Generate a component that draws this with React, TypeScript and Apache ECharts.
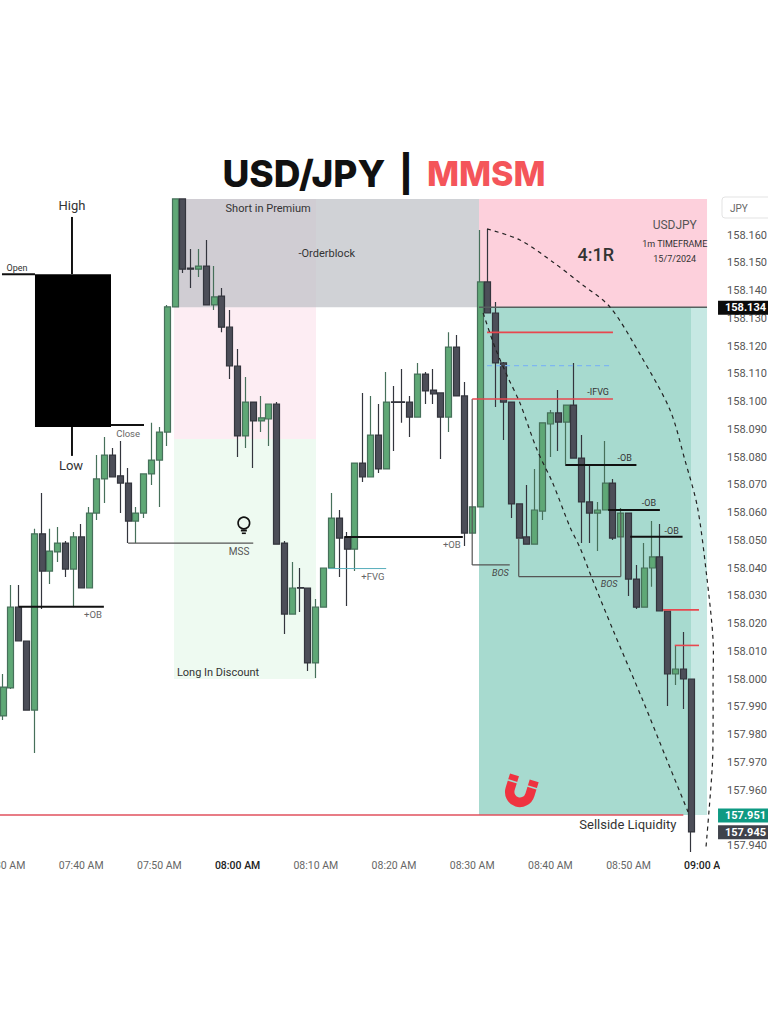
import React, { useEffect, useRef } from "react";
import * as echarts from "echarts";

const minutes: string[] = [];
for (let i = 0; i < 92; i++) {
  const t = 7 * 60 + 30 + i;
  const h = Math.floor(t / 60);
  const m = t % 60;
  minutes.push(`${String(h).padStart(2, "0")}:${String(m).padStart(2, "0")} AM`);
}

const opens = [157.9867,157.9968,158.0259,158.0137,157.9888,158.0523,158.0389,158.0458,158.0490,158.0396,158.0512,158.0328,158.0598,158.0721,158.0807,158.0732,158.0706,158.0569,158.0598,158.0739,158.0789,158.0890,158.1341,158.1730,158.1481,158.1477,158.1488,158.1348,158.1380,158.1268,158.1128,158.0876,158.0998,158.0930,158.0937,158.0991,158.0490,158.0234,158.0329,158.0328,158.0058,158.0259,158.0400,158.0580,158.0512,158.0468,158.0778,158.0728,158.0879,158.0757,158.0999,158.0999,158.0998,158.0944,158.1099,158.1041,158.1031,158.0944,158.1196,158.1020,158.0526,158.0620,158.1431,158.1319,158.1139,158.0998,158.0631,158.0512,158.0486,158.0605,158.0919,158.0959,158.0926,158.0987,158.0796,158.0638,158.0598,158.0609,158.0706,158.0512,158.0598,158.0360,158.0259,158.0400,158.0440,158.0245,158.0018,158.0036,158.0000];
const closes = [157.9971,158.0259,158.0137,157.9888,158.0523,158.0389,158.0461,158.0490,158.0396,158.0512,158.0328,158.0598,158.0721,158.0807,158.0728,158.0706,158.0569,158.0598,158.0739,158.0789,158.0890,158.1341,158.1730,158.1477,158.1477,158.1488,158.1348,158.1377,158.1268,158.1128,158.0876,158.0998,158.0930,158.0941,158.0991,158.0486,158.0234,158.0328,158.0327,158.0058,158.0259,158.0400,158.0580,158.0508,158.0468,158.0778,158.0728,158.0879,158.0757,158.0998,158.0997,158.0997,158.0944,158.1099,158.1038,158.1027,158.0944,158.1196,158.1020,158.0526,158.0620,158.1431,158.1319,158.1139,158.0998,158.0631,158.0508,158.0486,158.0609,158.0923,158.0959,158.0926,158.0987,158.0796,158.0638,158.0598,158.0609,158.0706,158.0508,158.0598,158.0360,158.0259,158.0400,158.0440,158.0245,158.0018,158.0036,158.0000,157.9449];
const lows = [157.9852,157.9964,158.0137,157.9888,157.9733,158.0252,158.0342,158.0422,158.0368,158.0259,158.0328,158.0328,158.0573,158.0634,158.0728,158.0598,158.0490,158.0490,158.0580,158.0699,158.0620,158.0840,158.1341,158.1463,158.1409,158.1449,158.1348,158.1330,158.1250,158.1081,158.0800,158.0832,158.0760,158.0890,158.0840,158.0486,158.0162,158.0234,158.0241,158.0029,158.0004,158.0259,158.0400,158.0368,158.0263,158.0389,158.0710,158.0728,158.0742,158.0757,158.0822,158.0923,158.0872,158.0944,158.0991,158.0991,158.0793,158.0890,158.1020,158.0479,158.0526,158.0620,158.1319,158.0980,158.0861,158.0580,158.0508,158.0486,158.0486,158.0573,158.0800,158.0822,158.0775,158.0796,158.0490,158.0490,158.0461,158.0609,158.0501,158.0512,158.0299,158.0252,158.0259,158.0332,158.0245,157.9903,157.9978,157.9892,157.9377];
const highs = [158.0018,158.0339,158.0339,158.0137,158.0541,158.0670,158.0541,158.0548,158.0497,158.0530,158.0559,158.0620,158.0807,158.0872,158.0832,158.0858,158.0760,158.0620,158.0739,158.0923,158.0908,158.1348,158.1730,158.1730,158.1550,158.1550,158.1582,158.1488,158.1409,158.1330,158.1189,158.1088,158.0998,158.1020,158.0991,158.0998,158.0497,158.0422,158.0400,158.0328,158.0288,158.0400,158.0670,158.0609,158.0530,158.0778,158.1031,158.1020,158.0991,158.1106,158.1056,158.1117,158.1020,158.1139,158.1106,158.1117,158.1031,158.1250,158.1240,158.1070,158.0620,158.1618,158.1622,158.1359,158.1142,158.0998,158.0631,158.0699,158.0757,158.0923,158.0969,158.1041,158.0987,158.1139,158.0879,158.0771,158.0638,158.0858,158.0721,158.0616,158.0598,158.0411,158.0490,158.0569,158.0559,158.0245,158.0119,158.0169,158.0000];

// Shaded zones: minute from, minute to, price from, price to, colour key
const zones: [number, number, number, number, string][] = [
  [21.87, 40.03, 158.173, 158.0865, "premium"],
  [21.87, 40.03, 158.0865, 158.0, "discount"],
  [21.87, 60.87, 158.173, 158.134, "orderblock"],
  [60.87, 90.03, 158.173, 158.134, "risk"],
  [60.87, 87.98, 158.134, 157.951, "reward"],
  [87.98, 90.03, 158.134, 157.951, "rewardEdge"],
];

// Marked levels: minute from, minute to, price from, price to, style key
const levels: [number, number, number, number, string][] = [
  [8.82, 8.82, 158.1665, 158.1459, "black"],
  [8.82, 8.82, 158.0908, 158.0804, "black"],
  [-0.13, 4.09, 158.1459, 158.1459, "black"],
  [13.81, 18.03, 158.0915, 158.0915, "black"],
  [2, 12.9, 158.026, 158.026, "black"],
  [16, 32, 158.049, 158.049, "grey"],
  [43.7, 58.8, 158.0512, 158.0512, "black"],
  [41.6, 49, 158.0398, 158.0398, "fvg"],
  [60, 60, 158.1009, 158.0411, "grey"],
  [60, 64.8, 158.0411, 158.0411, "grey"],
  [65.95, 65.95, 158.0508, 158.0369, "grey"],
  [65.95, 79, 158.0369, 158.0369, "grey"],
  [79, 79, 158.0369, 158.0598, "grey"],
  [61.9, 78, 158.1249, 158.1249, "red"],
  [61.9, 78, 158.1129, 158.1129, "blue"],
  [60, 78, 158.1009, 158.1009, "red"],
  [71.9, 81, 158.0771, 158.0771, "black"],
  [77.4, 84, 158.0609, 158.0609, "black"],
  [80.2, 86.9, 158.0513, 158.0513, "black"],
  [84.4, 89, 158.0249, 158.0249, "red"],
  [85.9, 89, 158.0121, 158.0121, "red"],
  [60.87, 90.03, 158.134, 158.134, "price"],
  [-1, 87, 157.951, 157.951, "liquidity"],
];

const outerCurve: [number, number][] = [[61.9,158.1622],[66.1,158.1582],[70.3,158.1503],[73.8,158.1427],[77.6,158.1341],[81.5,158.1168],[85.3,158.0969],[87.2,158.0789],[88.8,158.0620],[90.0,158.0368],[90.8,158.0141],[90.8,157.9986],[90.8,157.9816],[90.7,157.9683],[89.9,157.9395]];
const innerCurve: [number, number][] = [[61.4,158.1319],[62.9,158.1196],[64.6,158.1085],[66.1,158.0995],[68.3,158.0825],[70.3,158.0706],[72.5,158.0548],[73.8,158.0472],[75.3,158.0364],[78.0,158.0177],[81.8,157.9924],[84.9,157.9708],[87.6,157.9521]];

// Text notes: text, minute, price, style key
const notes: [string, number, number, string][] = [
  ["High", 8.82, 158.1708, "anatomy"],
  ["Low", 8.7, 158.0771, "anatomy"],
  ["Open", 1.79, 158.1481, "tiny"],
  ["Close", 16.0, 158.0883, "tinyGrey"],
  ["Short in Premium", 33.9, 158.1694, "zone"],
  ["-Orderblock", 41.4, 158.1535, "zone"],
  ["MSS", 30.2, 158.0461, "mss"],
  ["Long In Discount", 27.5, 158.0025, "zone"],
  ["+OB", 11.5, 158.0234, "tinyGrey"],
  ["+OB", 57.4, 158.0486, "tinyGrey"],
  ["+FVG", 47.3, 158.0371, "tinyGrey"],
  ["BOS", 63.6, 158.0382, "bos"],
  ["BOS", 77.5, 158.0342, "bos"],
  ["-IFVG", 76.1, 158.1034, "tiny"],
  ["-OB", 79.5, 158.0796, "tiny"],
  ["-OB", 82.6, 158.0634, "tiny"],
  ["-OB", 85.5, 158.0533, "tiny"],
  ["USDJPY", 85.9, 158.1636, "symbol"],
  ["1m TIMEFRAME", 85.9, 158.1568, "tiny"],
  ["15/7/2024", 85.9, 158.1514, "tiny"],
  ["4:1R", 75.8, 158.1528, "ratio"],
  ["Sellside Liquidity", 79.9, 157.9474, "liquidity"],
];

// Price tags on the axis: price, colour key
const priceTags: [number, string][] = [
  [158.134, "black"],
  [157.951, "teal"],
  [157.945, "slate"],
];

const zoneColors: Record<string, string> = {
  premium: "#fdedf3",
  discount: "#eefaf1",
  orderblock: "rgba(190,192,198,0.72)",
  risk: "#fdd0dc",
  reward: "#a7dacf",
  rewardEdge: "#c6e8e3",
};
const levelStyles: Record<string, any> = {
  black: { stroke: "#111", lineWidth: 2 },
  grey: { stroke: "#555", lineWidth: 1.2 },
  fvg: { stroke: "#58aebb", lineWidth: 1 },
  red: { stroke: "#e8474f", lineWidth: 1.6 },
  blue: { stroke: "#7eb7f0", lineWidth: 1.2, lineDash: [5, 4] },
  price: { stroke: "#55605e", lineWidth: 1.5 },
  liquidity: { stroke: "#e0505e", lineWidth: 1.6 },
};
const noteStyles: Record<string, any> = {
  anatomy: { fontSize: 13, fill: "#333" },
  tiny: { fontSize: 9, fill: "#333" },
  tinyGrey: { fontSize: 9.5, fill: "#666" },
  zone: { fontSize: 11, fill: "#333" },
  mss: { fontSize: 10, fill: "#555" },
  bos: { fontSize: 9, fontStyle: "italic", fill: "#444" },
  symbol: { fontSize: 12, fill: "#555" },
  ratio: { fontSize: 18, fontWeight: 500, fill: "#333" },
  liquidity: { fontSize: 13, fill: "#333" },
};
const tagColors: Record<string, string> = { black: "#0b0b0b", teal: "#0e9a83", slate: "#3f424b" };
const FONT = "Roboto";

const magnetPath = "M-16,-16 L-6,-16 L-6,-1 A6,6 0 0 0 6,-1 L6,-16 L16,-16 L16,-1 A16,16 0 0 1 -16,-1 Z";

export default function App() {
  const ref = useRef<HTMLDivElement>(null);
  useEffect(() => {
    const chart = echarts.init(ref.current!, null, { renderer: "svg" });
    const candles = opens.map((o, i) => [o, closes[i], lows[i], highs[i]]);

    const renderZones = (_: any, api: any) => ({
      type: "group",
      children: zones.map(([a, b, p, q, key]) => {
        const s = api.coord([a, p]);
        const e = api.coord([b, q]);
        return {
          type: "rect",
          shape: { x: s[0], y: s[1], width: e[0] - s[0], height: e[1] - s[1] },
          style: { fill: zoneColors[key] },
        };
      }),
    });

    const renderOverlay = (_: any, api: any) => {
      const children: any[] = [];
      const body0 = api.coord([4.09, 158.1459]);
      const body1 = api.coord([13.81, 158.0908]);
      children.push({
        type: "rect",
        shape: { x: body0[0], y: body0[1], width: body1[0] - body0[0], height: body1[1] - body0[1] },
        style: { fill: "#000" },
      });
      levels.forEach(([a, b, p, q, key]) => {
        const s = api.coord([a, p]);
        const e = api.coord([b, q]);
        children.push({
          type: "line",
          shape: { x1: s[0], y1: s[1], x2: e[0], y2: e[1] },
          style: levelStyles[key],
        });
      });
      [outerCurve, innerCurve].forEach((curve) => {
        children.push({
          type: "polyline",
          shape: { points: curve.map((c) => api.coord(c)), smooth: 0.3 },
          style: { stroke: "#222", lineWidth: 1.2, lineDash: [4, 4], fill: "none" },
        });
      });
      notes.forEach(([text, x, p, key]) => {
        const c = api.coord([x, p]);
        children.push({
          type: "text",
          x: c[0],
          y: c[1],
          style: { text, fontFamily: FONT, align: "center", verticalAlign: "middle", ...noteStyles[key] },
        });
      });
      // Light bulb beside the MSS note
      const bulb = api.coord([30.8, 158.0555]);
      children.push({
        type: "group",
        x: bulb[0],
        y: bulb[1],
        children: [
          { type: "circle", shape: { cx: 0, cy: -2, r: 5.8 }, style: { fill: "none", stroke: "#111", lineWidth: 1.6 } },
          { type: "rect", shape: { x: -3, y: 4.5, width: 6, height: 2 }, style: { fill: "#111" } },
          { type: "rect", shape: { x: -2, y: 7.5, width: 4, height: 1.6 }, style: { fill: "#111" } },
        ],
      });
      // Magnet logo
      const logo = api.coord([66.1, 157.9592]);
      children.push({
        type: "path",
        x: logo[0],
        y: logo[1],
        rotation: -0.3,
        shape: { pathData: magnetPath, x: -15, y: -15, width: 30, height: 30, layout: "cover" },
        style: { fill: "#ef3340" },
      });
      [[-10.5, -9], [10.5, -9]].forEach(([dx, dy]) => {
        children.push({
          type: "rect",
          x: logo[0],
          y: logo[1],
          rotation: -0.3,
          shape: { x: dx - 6, y: dy, width: 12, height: 1.5 },
          style: { fill: "#a7dacf" },
        });
      });
      // Price tags on the axis
      priceTags.forEach(([price, key]) => {
        const c = api.coord([91.5, price]);
        children.push({
          type: "rect",
          shape: { x: c[0] - 0.5, y: c[1] - 6.5, width: 50, height: 14 },
          style: { fill: tagColors[key] },
        });
        children.push({
          type: "text",
          x: c[0] + 27,
          y: c[1] + 0.5,
          style: { text: price.toFixed(3), fontFamily: FONT, fontSize: 11, fontWeight: 700, fill: "#fff", align: "center", verticalAlign: "middle" },
        });
      });
      // Covers the end of the last time label where the price scale begins
      const edge = api.coord([91.7, 157.93]);
      children.push({
        type: "rect",
        shape: { x: edge[0], y: edge[1] - 18, width: 50, height: 24 },
        style: { fill: "#fff" },
      });
      return { type: "group", children };
    };

    chart.setOption({
      animation: false,
      backgroundColor: "#fff",
      title: {
        left: "center",
        top: 150,
        text: "{a|USD/JPY}{s| | }{b|MMSM}",
        textStyle: {
          rich: {
            a: { fontFamily: "Inter", fontWeight: 800, fontSize: 37, color: "#111" },
            s: { fontFamily: "Inter", fontWeight: 800, fontSize: 36, color: "#111", padding: [0, 6] },
            b: { fontFamily: "Inter", fontWeight: 800, fontSize: 34, color: "#f4555a" },
          },
        },
      },
      grid: { left: -0.91, width: 719.44, top: 179.5, height: 693.75, outerBoundsMode: "none" },
      xAxis: [
        {
          type: "category",
          data: minutes,
          axisLine: { show: false },
          axisTick: { show: false },
          axisLabel: {
            interval: (i: number) => i % 10 === 0,
            margin: -13,
            fontFamily: FONT,
            fontSize: 10.5,
            color: "#666",
            formatter: (v: string) => (v.endsWith(":00 AM") ? `{b|${v}}` : v),
            rich: { b: { fontFamily: FONT, fontSize: 10.5, fontWeight: 500, color: "#222" } },
          },
        },
        { type: "value", show: false, min: -0.5, max: 91.5 },
      ],
      yAxis: {
        type: "value",
        position: "right",
        min: 157.93,
        max: 158.18,
        interval: 0.01,
        axisLine: { show: false },
        axisTick: { show: false },
        splitLine: { show: false },
        axisLabel: {
          margin: 8.5,
          fontFamily: FONT,
          fontSize: 11,
          color: "#555",
          formatter: (v: number) => (v > 158.165 || v < 157.935 ? "" : v.toFixed(3)),
        },
      },
      graphic: [
        {
          type: "rect",
          shape: { x: 722, y: 197, width: 60, height: 21, r: 3 },
          style: { fill: "#fff", stroke: "#e3e3e3", lineWidth: 1 },
        },
        {
          type: "text",
          x: 730,
          y: 203,
          style: { text: "JPY", fontFamily: FONT, fontSize: 10, fill: "#666" },
        },
      ],
      series: [
        {
          type: "custom",
          xAxisIndex: 1,
          z: 1,
          silent: true,
          data: [[0, 158]],
          renderItem: renderZones,
        },
        {
          type: "candlestick",
          xAxisIndex: 0,
          z: 2,
          data: candles,
          barWidth: 6.5,
          itemStyle: {
            color: "#5fa876",
            color0: "#4c4e58",
            borderColor: "#46705a",
            borderColor0: "#33353d",
            borderWidth: 1.2,
          },
        },
        {
          type: "custom",
          xAxisIndex: 1,
          z: 3,
          silent: true,
          data: [[0, 158]],
          renderItem: renderOverlay,
        },
      ],
    });
    return () => chart.dispose();
  }, []);
  return <div ref={ref} style={{ position: "absolute", left: 0, top: 0, width: 768, height: 1024 }} />;
}
